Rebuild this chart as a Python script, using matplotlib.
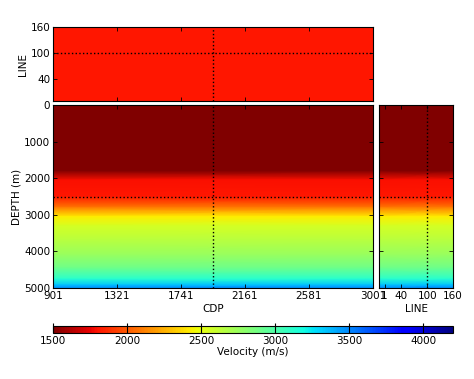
import numpy as np
import matplotlib
matplotlib.use("Agg")
import matplotlib.pyplot as plt
from matplotlib.cm import ScalarMappable
from matplotlib.colors import Normalize

# velocity profile vs depth (model is laterally constant)
depth_m = np.array([0, 1800, 2050, 2500, 2800, 3050, 3300, 3700, 4100, 4450, 4750, 4920, 5000])
velocity_ms = np.array([1500, 1510, 1790, 1810, 2100, 2420, 2560, 2660, 2760, 2900, 3120, 3350, 3500])

cdp_range = [901, 3001]
line_range = [-12, 160]
cdp_ticks = [901, 1321, 1741, 2161, 2581, 3001]
line_ticks = [1, 40, 100, 160]
depth_ticks = [0, 1000, 2000, 3000, 4000, 5000]
cbar_ticks = [1500, 2000, 2500, 3000, 3500, 4000]

slice_cdp = 1951
slice_line = 100
slice_depth = 2500

vmin, vmax = 1500, 4200
cmap = "jet_r"
norm = Normalize(vmin, vmax)
fs = 7.5

plt.rcParams['font.size'] = fs
fig = plt.figure(figsize=(4.74, 3.79), dpi=100)

W, H = 474.0, 379.0
def box(x0, y0, x1, y1):
    return [x0 / W, 1 - y1 / H, (x1 - x0) / W, (y1 - y0) / H]

ax_top = fig.add_axes(box(53, 27, 373, 101))
ax_main = fig.add_axes(box(53, 105, 373, 288))
ax_side = fig.add_axes(box(379, 105, 453, 288))
cax = fig.add_axes(box(53, 326, 453, 333))

prof = np.repeat(velocity_ms[:, None], 2, axis=1)

# main CDP-depth section
ax_main.pcolormesh(cdp_range, depth_m, prof, cmap=cmap, norm=norm, shading='gouraud')
ax_main.set_xlim(cdp_range)
ax_main.set_ylim(5000, 0)
ax_main.set_xticks(cdp_ticks)
ax_main.set_yticks(depth_ticks)
ax_main.set_xlabel("CDP", labelpad=2)
ax_main.set_ylabel("DEPTH (m)", labelpad=2)
ax_main.axvline(slice_cdp, color='k', ls=':', lw=1)
ax_main.axhline(slice_depth, color='k', ls=':', lw=1)

# side LINE-depth section
ax_side.pcolormesh(line_range, depth_m, prof, cmap=cmap, norm=norm, shading='gouraud')
ax_side.set_xlim(line_range)
ax_side.set_ylim(5000, 0)
ax_side.set_xticks(line_ticks)
ax_side.set_yticks(depth_ticks)
ax_side.set_yticklabels([])
ax_side.set_xlabel("LINE", labelpad=2)
ax_side.axvline(slice_line, color='k', ls=':', lw=1)
ax_side.axhline(slice_depth, color='k', ls=':', lw=1)

# top depth slice
v_slice = velocity_ms[depth_m == slice_depth][0]
ax_top.pcolormesh(cdp_range, line_range, np.full((2, 2), v_slice), cmap=cmap, norm=norm, shading='gouraud')
ax_top.set_xlim(cdp_range)
ax_top.set_ylim(line_range)
ax_top.set_xticks(cdp_ticks)
ax_top.set_xticklabels([])
ax_top.set_yticks([40, 100, 160])
ax_top.set_ylabel("LINE", labelpad=2)
ax_top.axvline(slice_cdp, color='k', ls=':', lw=1)
ax_top.axhline(slice_line, color='k', ls=':', lw=1)

for ax in (ax_top, ax_main, ax_side):
    ax.tick_params(direction='in', top=True, right=True, length=3, width=0.6, labelsize=fs, pad=2)
    for s in ax.spines.values():
        s.set_linewidth(0.8)

cb = fig.colorbar(ScalarMappable(norm=norm, cmap=cmap), cax=cax, orientation='horizontal', ticks=cbar_ticks)
cb.ax.tick_params(direction='in', length=7, width=0.8, color='k', labelsize=fs, pad=2)
cb.outline.set_linewidth(0.8)
cb.set_label("Velocity (m/s)", fontsize=fs, labelpad=1)

fig.savefig("out.png", dpi=100)
